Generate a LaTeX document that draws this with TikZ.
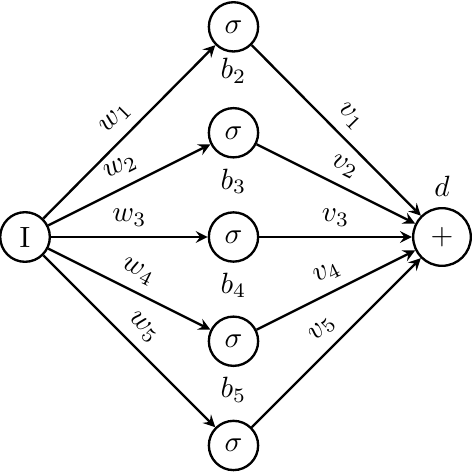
\documentclass[tikz,border=0pt]{standalone}
\usetikzlibrary{arrows,positioning}
\begin{document}
\begin{tikzpicture}[
  unit/.style={draw,circle,thick},
  link/.style={thick,-stealth}
]
  \useasboundingbox (-0.30,-2.854) rectangle (5.384,2.842);
  \node[unit] (I) at (0,0) {I};
  \node[unit,label={[label distance=-1.5pt]below:$b_2$}] (S1) at (2.5,2.52) {$\sigma$};
  \node[unit,label=below:$b_3$] (S2) at (2.5,1.25) {$\sigma$};
  \node[unit,label=below:$b_4$] (S3) at (2.5,0) {$\sigma$};
  \node[unit,label=below:$b_5$] (S4) at (2.5,-1.25) {$\sigma$};
  \node[unit] (S5) at (2.5,-2.5) {$\sigma$};
  \node[unit,label=above:$d$] (P) at (5,0) {$+$};

  \draw[link] (I) -- node[above,sloped] {$w_1$} (S1);
  \draw[link] (I) -- node[above,sloped] {$w_2$} (S2);
  \draw[link] (I) -- node[above,sloped] {$w_3$} (S3);
  \draw[link] (I) -- node[above,sloped] {$w_4$} (S4);
  \draw[link] (I) -- node[above,sloped] {$w_5$} (S5);

  \draw[link] (S1) -- node[above,sloped] {$v_1$} (P);
  \draw[link] (S2) -- node[above,sloped] {$v_2$} (P);
  \draw[link] (S3) -- node[above,sloped] {$v_3$} (P);
  \draw[link] (S4) -- node[above,sloped] {$v_4$} (P);
  \draw[link] (S5) -- node[above,sloped] {$v_5$} (P);
\end{tikzpicture}
\end{document}
